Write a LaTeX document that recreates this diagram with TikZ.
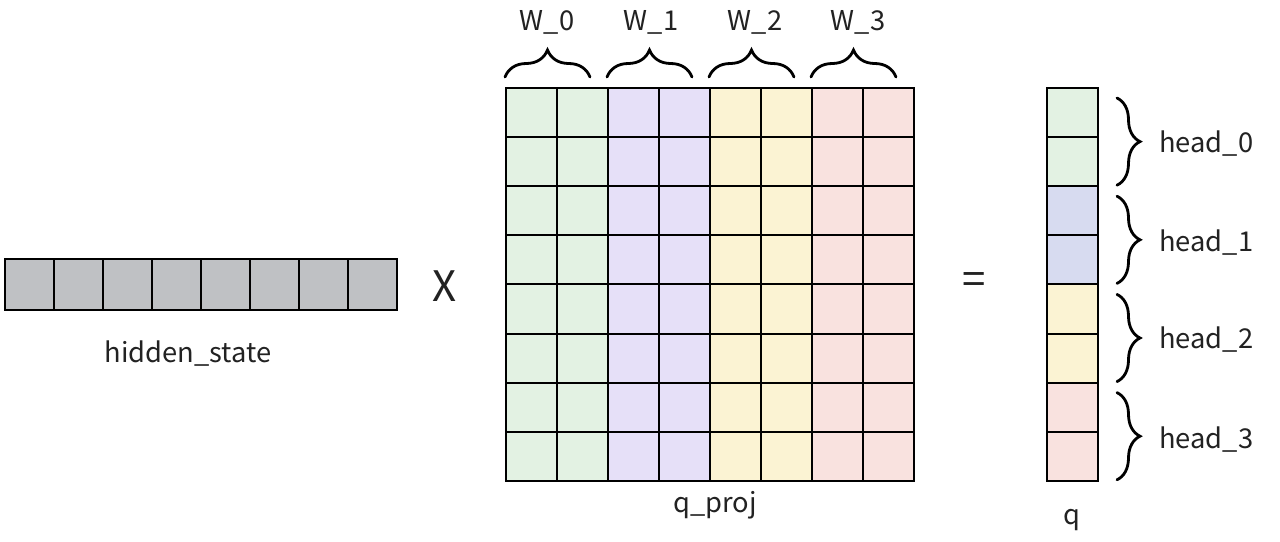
\documentclass[tikz,border=0pt]{standalone}
\usepackage{fontspec}
\setmainfont{Noto Sans CJK SC}
\usetikzlibrary{decorations.pathreplacing}
\definecolor{col0}{HTML}{E3F2E3}
\definecolor{col1}{HTML}{E6E0F8}
\definecolor{col2}{HTML}{FBF3D3}
\definecolor{col3}{HTML}{F9E2DF}
\definecolor{qblue}{HTML}{D7DBF0}
\definecolor{hgray}{HTML}{BFC1C4}
\definecolor{txt}{HTML}{222222}
\begin{document}
\begin{tikzpicture}[x=1pt,y=-1pt,
  cell/.style={draw=black, line width=2pt, minimum width=51pt, minimum height=49.1pt, inner sep=0pt, outer sep=0pt, anchor=north west},
  lbl/.style={font=\fontsize{27.3}{32}\selectfont, text=txt, inner sep=0pt},
  sym/.style={font=\fontsize{42}{46}\selectfont, text=txt, inner sep=0pt},
  brc/.style={decorate, decoration={brace, amplitude=#1}, line width=2.8pt, line cap=round}]
\useasboundingbox[fill=white] (0,0) rectangle (1280,541);
% hidden state
\foreach \i in {0,...,7}
  \node[cell, fill=hgray, minimum width=49pt, minimum height=51pt] (h\i) at ({5+49*\i},259) {};
\node[lbl] (hlabel) at (188,354) {hidden\_state};
\node[sym] (times) at (445,286) {X};
% q_proj
\foreach \r in {0,...,7}
  \foreach \c in {0,...,7} {
    \pgfmathtruncatemacro{\g}{int(\c/2)}
    \node[cell, fill=col\g] (p-\r-\c) at ({506+51*\c},{88+49.1*\r}) {};
  }
\node[lbl] (plabel) at (715,505) {q\_proj};
% braces on top
\foreach \g in {0,...,3} {
  \pgfmathtruncatemacro{\a}{2*\g}
  \pgfmathtruncatemacro{\b}{2*\g+1}
  \draw[brc=27pt] ([xshift=-1pt,yshift=11pt]p-0-\a.north west) -- ([xshift=-18pt,yshift=11pt]p-0-\b.north east);
}
\node[lbl] (w0) at (547,22) {W\_0};
\node[lbl] (w1) at (651,22) {W\_1};
\node[lbl] (w2) at (755,22) {W\_2};
\node[lbl] (w3) at (858,22) {W\_3};
\node[sym] (eq) at (974,284) {=};
% q vector
\foreach \i/\cl in {0/col0,1/col0,2/qblue,3/qblue,4/col2,5/col2,6/col3,7/col3}
  \node[cell, fill=\cl] (q\i) at (1047,{88+49.1*\i}) {};
\node[lbl] (qlabel) at (1072,520) {q};
% right braces
\foreach \g in {0,...,3} {
  \pgfmathtruncatemacro{\a}{2*\g}
  \pgfmathtruncatemacro{\b}{2*\g+1}
  \draw[brc=23pt] ([xshift=19pt,yshift=-10pt]q\a.north east) -- ([xshift=19pt,yshift=1pt]q\b.south east);
}
\node[lbl, anchor=west] (hd0) at (1159,144) {head\_0};
\node[lbl, anchor=west] (hd1) at (1159,243) {head\_1};
\node[lbl, anchor=west] (hd2) at (1159,340) {head\_2};
\node[lbl, anchor=west] (hd3) at (1159,440) {head\_3};
\end{tikzpicture}
\end{document}
